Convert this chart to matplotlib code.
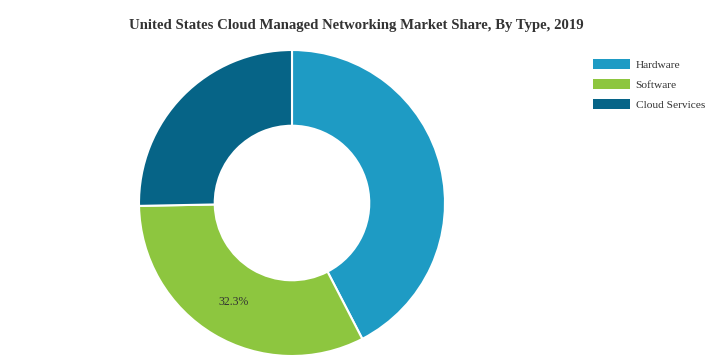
import matplotlib
matplotlib.use("Agg")
import matplotlib.pyplot as plt
from matplotlib.patches import Patch
import numpy as np

# market share by type (%)
types = ["Hardware", "Software", "Cloud Services"]
shares = [42.4, 32.3, 25.3]
colors = ["#1e9bc4", "#8dc63f", "#066487"]
shown_labels = ["", "32.3%", ""]

W, H = 717, 358
fig = plt.figure(figsize=(W / 100, H / 100), dpi=100)
fig.patch.set_facecolor("white")

# donut: center (292, 203) px from top-left, outer radius 153 px
cx, cy, r = 292, 203, 153
ax = fig.add_axes([(cx - r) / W, (H - cy - r) / H, 2 * r / W, 2 * r / H])
wedges, _ = ax.pie(shares, colors=colors, startangle=90, counterclock=False,
                   radius=1, wedgeprops=dict(width=0.495, edgecolor="white", linewidth=1.5))
ax.set_xlim(-1, 1)
ax.set_ylim(-1, 1)
ax.set_aspect("equal")
ax.axis("off")

# percentage labels at the middle of the ring
start = 90.0
mid_r = 1 - 0.495 / 2
for val, lab in zip(shares, shown_labels):
    ang = start - val * 3.6 / 2
    start -= val * 3.6
    if lab:
        ax.text(mid_r * np.cos(np.radians(ang)), mid_r * np.sin(np.radians(ang)), lab,
                ha="center", va="center", fontsize=8.5, color="#333333",
                family="Liberation Serif")

fig.text(356 / W, 1 - 29 / H, "United States Cloud Managed Networking Market Share, By Type, 2019",
         ha="center", va="baseline", fontsize=10.6, fontweight="bold", color="#333333",
         family="Liberation Serif")

handles = [Patch(facecolor=c, edgecolor="none") for c in colors]
leg = fig.legend(handles, types, loc="upper left", bbox_to_anchor=(593 / W, 1 - 59 / H),
                 frameon=False, borderpad=0, borderaxespad=0, handlelength=3.25,
                 handleheight=0.95, handletextpad=0.5, labelspacing=0.82,
                 prop=dict(family="Liberation Serif", size=8.2))
for t in leg.get_texts():
    t.set_color("#333333")

fig.savefig("out.png", dpi=100, facecolor="white")
